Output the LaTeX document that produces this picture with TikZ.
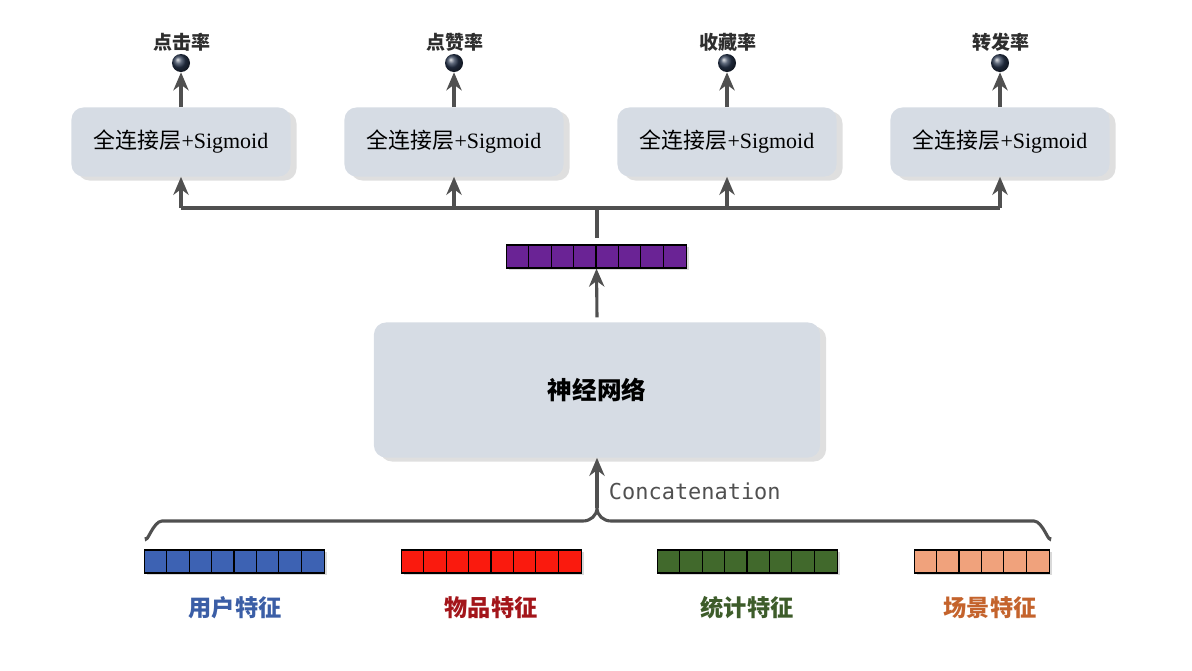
\documentclass[tikz,border=0pt]{standalone}
\usepackage{fontspec}
\setmainfont{Liberation Serif}
\newfontfamily\cjk{Noto Sans CJK SC}
\newfontfamily\monofont{DejaVu Sans Mono}
\usetikzlibrary{positioning, shapes.geometric, shadows, arrows.meta}

\definecolor{boxfill}{HTML}{D6DCE4}
\definecolor{linegray}{HTML}{505050}
\definecolor{dotblue}{HTML}{2A3850}
\definecolor{vblue}{HTML}{3D62B3}
\definecolor{vred}{HTML}{FA1A0E}
\definecolor{vgreen}{HTML}{41692C}
\definecolor{vorange}{HTML}{F0A27C}
\definecolor{vpurple}{HTML}{6A2395}
\definecolor{lblue}{HTML}{3B5EA6}
\definecolor{lred}{HTML}{A3151A}
\definecolor{lgreen}{HTML}{3D5C2A}
\definecolor{lorange}{HTML}{C4632C}
\definecolor{ratetext}{HTML}{2E2E2E}

\tikzset{
  layerbox/.style={rounded corners=0.3cm, fill=boxfill, draw=none,
    drop shadow={shadow xshift=0.15cm, shadow yshift=-0.1cm, opacity=0.25, fill=gray}},
  vecbox/.style={draw=black, line width=0.8pt, minimum height=0.575cm, inner sep=0pt,
    drop shadow={shadow xshift=0.06cm, shadow yshift=-0.06cm, opacity=0.3, fill=gray}},
  outdot/.style={circle, minimum size=0.45cm, inner sep=0pt, ball color=dotblue},
  flow/.style={draw=linegray, line width=2.2pt},
  arrow/.style={flow, -{Stealth[length=0.45cm, width=0.38cm, inset=0.14cm]}},
  featlab/.style={font=\fontsize{16.5pt}{18pt}\selectfont\cjk\bfseries},
}

\begin{document}
\begin{tikzpicture}[x=0.025cm, y=-0.025cm]
            \useasboundingbox (0, 0) rectangle (1192, 671);

            % output heads
            \foreach \i/\xx/\name in {1/181/点击率, 2/454/点赞率, 3/727/收藏率, 4/1000/转发率} {
                \node[layerbox, minimum width=5.475cm, minimum height=1.725cm] (fc\i) at (\xx, 142)
                    {\fontsize{15.6pt}{17pt}\selectfont{\cjk 全连接层}+Sigmoid};
                \node[outdot] (dot\i) at (\xx, 63) {};
                \node[text=ratetext] (rate\i) at (\xx + 1, 42) {\fontsize{13.5pt}{15pt}\selectfont\cjk\bfseries \name};
                \draw[arrow] (fc\i.north) -- (dot\i.south);
            }

            % shared representation
            \node[vecbox, fill=vpurple, minimum width=4.48cm] (shared) at (596.5, 256.5) {};
            \foreach \k in {1,...,7}
                \draw[line width=0.8pt] (shared.south west) ++(\k*0.56cm, 0) -- ++(0, 0.575cm);
            \coordinate (bus) at (597, 208);
            \coordinate (stem) at (597, 238);
            \draw[flow] (stem) -- (bus);
            \draw[flow] (fc1 |- bus) -- (fc4 |- bus);
            \foreach \i in {1,...,4}
                \draw[arrow] (fc\i |- bus) -- (fc\i.south);

            % neural network
            \node[layerbox, minimum width=11.15cm, minimum height=3.375cm] (nn) at (597, 390)
                {\fontsize{17.5pt}{20pt}\selectfont\cjk\bfseries 神经网络};
            \draw[arrow] (nn.north) ++(0, 0.12cm) coordinate (nntop) (nntop) -- (shared.south);

            % input features
            \foreach \v/\xx/\n/\col in {user/234.5/8/vblue, item/491.5/8/vred, stat/747.5/8/vgreen, ctx/982/6/vorange} {
                \node[vecbox, fill=\col, minimum width=\n*0.56cm] (\v) at (\xx, 561.5) {};
                \pgfmathtruncatemacro{\last}{\n - 1}
                \foreach \k in {1,...,\last}
                    \draw[line width=0.8pt] (\v.south west) ++(\k*0.56cm, 0) -- ++(0, 0.575cm);
            }
            \node[featlab, text=lblue] (userlab) at (235, 608) {用户特征};
            \node[featlab, text=lred] (itemlab) at (491, 608) {物品特征};
            \node[featlab, text=lgreen] (statlab) at (747, 608) {统计特征};
            \node[featlab, text=lorange] (ctxlab) at (990, 608) {场景特征};

            % concatenation brace
            \coordinate (cusp) at (597, 508);
            \draw[flow] (146, 537) to[out=-90, in=180] (162, 521) -- (583, 521)
                to[out=0, in=-90] (cusp) to[out=-90, in=180] (611, 521) -- (1034, 521)
                to[out=0, in=-90] (1050, 537);
            \draw[arrow] (cusp) -- (nn.south);
            \node[anchor=west, text=linegray] (concat) at (604, 491)
                {\fontsize{15.6pt}{18pt}\selectfont\monofont Concatenation};
        \end{tikzpicture}
\end{document}
